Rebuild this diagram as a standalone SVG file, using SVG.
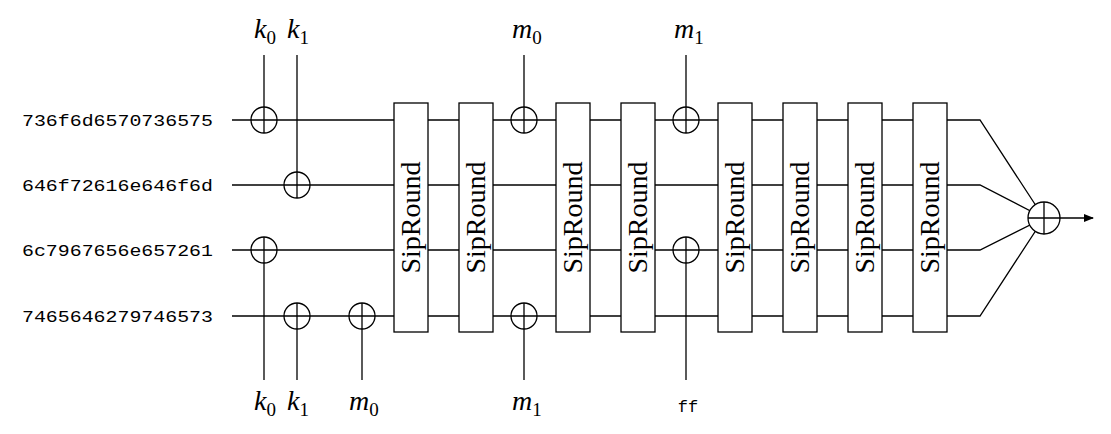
<svg xmlns="http://www.w3.org/2000/svg" width="1111" height="434" viewBox="0 0 1111 434">
<defs>
<style>
line,path,rect,circle{stroke:#000;stroke-width:1.3;fill:none}
.x{fill:#fff}
.hex{font-family:"Liberation Mono",monospace;font-size:17px}
.v{font-family:"Liberation Serif",serif;font-style:italic;font-size:28px}
.s{font-family:"Liberation Serif",serif;font-style:normal;font-size:19px}
.r{font-family:"Liberation Serif",serif;font-size:28px}
</style>
<marker id="a" markerWidth="10" markerHeight="8" refX="9" refY="4" orient="auto" markerUnits="userSpaceOnUse"><path d="M0,0L10,4L0,8Z" style="fill:#000;stroke:none"/></marker>
</defs>
<g id="labels">
<text class="hex" x="22" y="126" textLength="191" lengthAdjust="spacingAndGlyphs">736f6d6570736575</text>
<text class="hex" x="22" y="191" textLength="191" lengthAdjust="spacingAndGlyphs">646f72616e646f6d</text>
<text class="hex" x="22" y="256" textLength="191" lengthAdjust="spacingAndGlyphs">6c7967656e657261</text>
<text class="hex" x="22" y="322" textLength="191" lengthAdjust="spacingAndGlyphs">7465646279746573</text>
<text class="v" x="254" y="38">k<tspan class="s" dy="6">0</tspan></text>
<text class="v" x="287" y="38">k<tspan class="s" dy="6">1</tspan></text>
<text class="v" x="512" y="38">m<tspan class="s" dy="6">0</tspan></text>
<text class="v" x="674" y="38">m<tspan class="s" dy="6">1</tspan></text>
<text class="v" x="254" y="410">k<tspan class="s" dy="6">0</tspan></text>
<text class="v" x="287" y="410">k<tspan class="s" dy="6">1</tspan></text>
<text class="v" x="349" y="410">m<tspan class="s" dy="6">0</tspan></text>
<text class="v" x="512" y="410">m<tspan class="s" dy="6">1</tspan></text>
<text class="hex" x="688" y="412" text-anchor="middle">ff</text>
</g>
<g id="connectors">
<line x1="232" y1="120" x2="947" y2="120"/>
<line x1="232" y1="185" x2="947" y2="185"/>
<line x1="232" y1="250" x2="947" y2="250"/>
<line x1="232" y1="316" x2="947" y2="316"/>
<line x1="264" y1="55" x2="264" y2="120"/>
<line x1="264" y1="250" x2="264" y2="380"/>
<line x1="297" y1="55" x2="297" y2="185"/>
<line x1="297" y1="316" x2="297" y2="380"/>
<line x1="362" y1="316" x2="362" y2="380"/>
<line x1="524" y1="55" x2="524" y2="120"/>
<line x1="524" y1="316" x2="524" y2="380"/>
<line x1="686" y1="55" x2="686" y2="120"/>
<line x1="686" y1="250" x2="686" y2="380"/>
<path d="M947,120H980L1044,218M947,185H980L1044,218M947,250H980L1044,218M947,316H980L1044,218"/>
<line x1="1044" y1="218" x2="1093" y2="218" marker-end="url(#a)"/>
</g>
<g id="xors">
<g id="x1"><circle class="x" cx="264" cy="120" r="13"/><path d="M251,120H277M264,107V133"/></g>
<g id="x2"><circle class="x" cx="297" cy="185" r="13"/><path d="M284,185H310M297,172V198"/></g>
<g id="x3"><circle class="x" cx="264" cy="250" r="13"/><path d="M251,250H277M264,237V263"/></g>
<g id="x4"><circle class="x" cx="297" cy="316" r="13"/><path d="M284,316H310M297,303V329"/></g>
<g id="x5"><circle class="x" cx="362" cy="316" r="13"/><path d="M349,316H375M362,303V329"/></g>
<g id="x6"><circle class="x" cx="524" cy="120" r="13"/><path d="M511,120H537M524,107V133"/></g>
<g id="x7"><circle class="x" cx="524" cy="316" r="13"/><path d="M511,316H537M524,303V329"/></g>
<g id="x8"><circle class="x" cx="686" cy="120" r="13"/><path d="M673,120H699M686,107V133"/></g>
<g id="x9"><circle class="x" cx="686" cy="250" r="13"/><path d="M673,250H699M686,237V263"/></g>
<g id="xf"><circle class="x" cx="1044" cy="218" r="16"/><path d="M1028,218H1060M1044,202V234"/></g>
</g>
<g id="rounds">
<g id="r1"><rect class="x" x="394" y="103" width="34" height="229"/><text class="r" transform="translate(420,217.5) rotate(-90)" text-anchor="middle">SipRound</text></g>
<g id="r2"><rect class="x" x="459" y="103" width="34" height="229"/><text class="r" transform="translate(485,217.5) rotate(-90)" text-anchor="middle">SipRound</text></g>
<g id="r3"><rect class="x" x="556" y="103" width="34" height="229"/><text class="r" transform="translate(582,217.5) rotate(-90)" text-anchor="middle">SipRound</text></g>
<g id="r4"><rect class="x" x="621" y="103" width="34" height="229"/><text class="r" transform="translate(647,217.5) rotate(-90)" text-anchor="middle">SipRound</text></g>
<g id="r5"><rect class="x" x="718" y="103" width="34" height="229"/><text class="r" transform="translate(744,217.5) rotate(-90)" text-anchor="middle">SipRound</text></g>
<g id="r6"><rect class="x" x="783" y="103" width="34" height="229"/><text class="r" transform="translate(809,217.5) rotate(-90)" text-anchor="middle">SipRound</text></g>
<g id="r7"><rect class="x" x="848" y="103" width="34" height="229"/><text class="r" transform="translate(874,217.5) rotate(-90)" text-anchor="middle">SipRound</text></g>
<g id="r8"><rect class="x" x="913" y="103" width="34" height="229"/><text class="r" transform="translate(939,217.5) rotate(-90)" text-anchor="middle">SipRound</text></g>
</g>
</svg>
